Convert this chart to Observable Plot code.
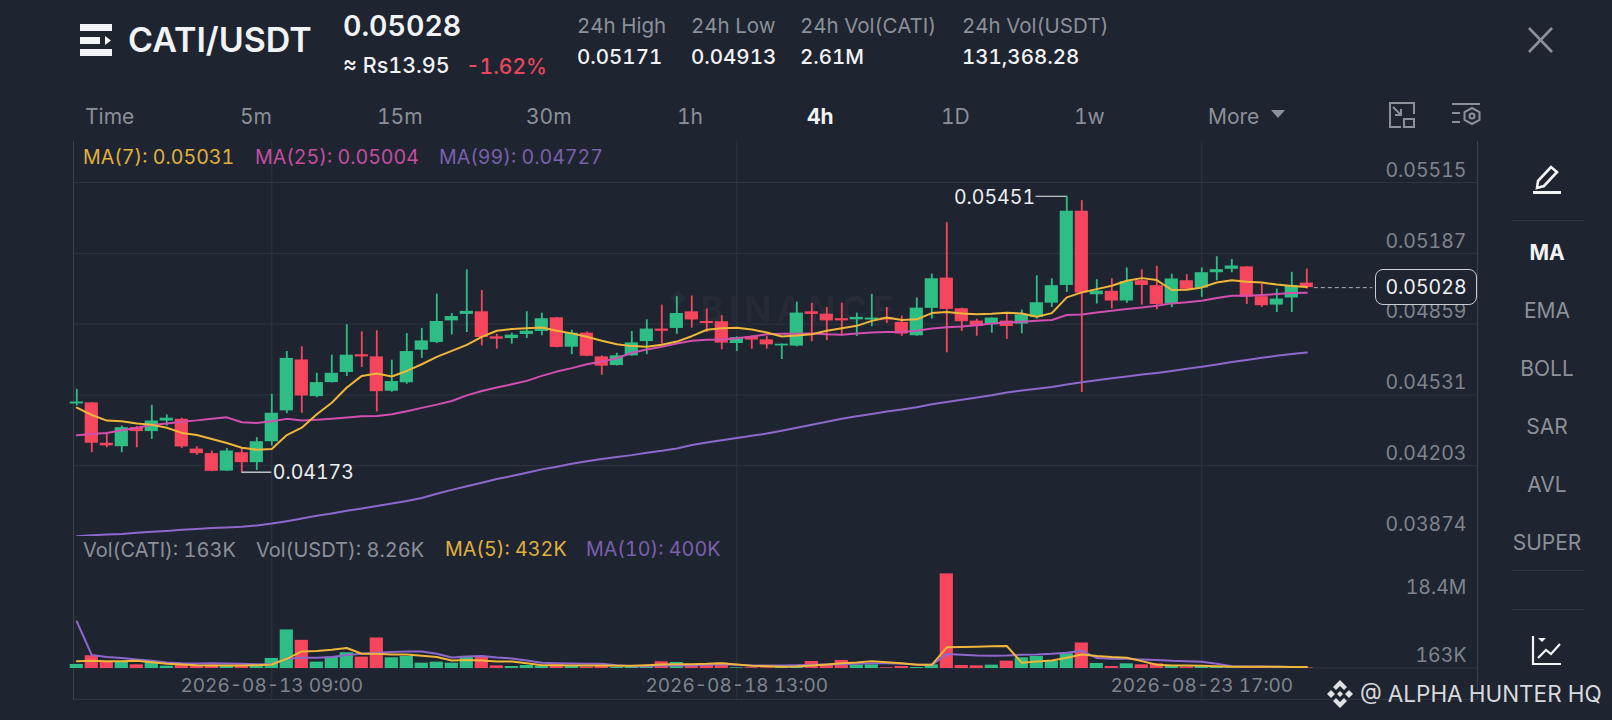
<!DOCTYPE html>
<html><head><meta charset="utf-8">
<style>
html,body{margin:0;padding:0;background:#1e2430;}
#page{position:relative;width:1612px;height:720px;overflow:hidden;background:#1e2430;font-family:Inter,"Noto Sans",sans-serif;font-variant-numeric:tabular-nums;font-feature-settings:"tnum";}
#page svg{position:absolute;left:0;}
#page svg text{font-variant-numeric:tabular-nums;font-feature-settings:"tnum";}
.t{position:absolute;white-space:nowrap;transform:translateY(-50%);line-height:1;}
.hr{position:absolute;height:1px;background:#2f3641;}
</style>
<script src="https://cdn.jsdelivr.net/npm/d3@7"></script>
<script src="https://cdn.jsdelivr.net/npm/@observablehq/plot@0.6"></script>
</head><body><div id="page"></div>
<script>
const open=[.04489,.04494,.04307,.04291,.04379,.04361,.04410,.04418,.04280,.04259,.04178,.04263,.04217,.04314,.04457,.04693,.04523,.04588,.04635,.04717,.04707,.04548,.04587,.04738,.04774,.04874,.04904,.04916,.04800,.04792,.04811,.04825,.04888,.04752,.04817,.04707,.04667,.04712,.04778,.04836,.04839,.04916,.04871,.04870,.04769,.04799,.04786,.04758,.04757,.04916,.04905,.04884,.04879,.04878,.04887,.04867,.04805,.04932,.05072,.04930,.04873,.04856,.04873,.04859,.04890,.04956,.05038,.05382,.04995,.05011,.04966,.05060,.05037,.04952,.05060,.05026,.05097,.05113,.05124,.04986,.04947,.04980,.05049];
const close=[.04498,.04307,.04295,.04379,.04361,.04410,.04423,.04290,.04259,.04177,.04271,.04217,.04314,.04446,.04700,.04526,.04588,.04631,.04715,.04707,.04546,.04593,.04732,.04781,.04871,.04894,.04918,.04797,.04789,.04808,.04826,.04884,.04751,.04817,.04710,.04664,.04712,.04772,.04836,.04826,.04908,.04878,.04862,.04771,.04796,.04785,.04763,.04766,.04910,.04904,.04874,.04874,.04890,.04887,.04878,.04813,.04933,.05069,.04927,.04870,.04848,.04887,.04848,.04902,.04958,.05037,.05382,.05003,.05012,.04966,.05056,.05038,.04950,.05068,.05020,.05097,.05111,.05128,.04984,.04944,.04975,.05037,.05028];
const high=[.04557,.04496,.04353,.04387,.04384,.04483,.04438,.04423,.04291,.04271,.04283,.04283,.04333,.04534,.04732,.04754,.04631,.04715,.04856,.04823,.04828,.04692,.04815,.04839,.04998,.04908,.05110,.05014,.04812,.04817,.04916,.04910,.04890,.04831,.04823,.04712,.04724,.04825,.04879,.04947,.04986,.04989,.04929,.04898,.04800,.04805,.04802,.04767,.04961,.04955,.04936,.04956,.04910,.04997,.04936,.04896,.04980,.05091,.05329,.04933,.04882,.04888,.04908,.04924,.05083,.05069,.05451,.05431,.05065,.05069,.05119,.05110,.05127,.05090,.05088,.05119,.05171,.05158,.05125,.05044,.05021,.05099,.05114];
const low=[.04480,.04263,.04286,.04263,.04286,.04325,.04387,.04282,.04251,.04175,.04176,.04173,.04181,.04294,.04444,.04446,.04518,.04586,.04616,.04658,.04452,.04543,.04580,.04700,.04769,.04809,.04820,.04758,.04743,.04766,.04792,.04805,.04749,.04717,.04708,.04622,.04665,.04710,.04717,.04766,.04812,.04840,.04820,.04740,.04732,.04743,.04743,.04695,.04754,.04777,.04782,.04805,.04802,.04847,.04862,.04802,.04803,.04882,.04726,.04825,.04803,.04817,.04788,.04814,.04882,.04936,.05006,.04542,.04952,.04930,.04955,.04947,.04925,.04935,.05017,.04983,.05060,.05097,.04950,.04936,.04913,.04913,.05021];
const ma7=[.04472,.04438,.04412,.04409,.04399,.04393,.04379,.04355,.04345,.04327,.04308,.04286,.04277,.04280,.04345,.04379,.04441,.04495,.04565,.04619,.04630,.04616,.04642,.04673,.04707,.04735,.04763,.04800,.04828,.04836,.04840,.04843,.04828,.04816,.04800,.04782,.04766,.04757,.04754,.04763,.04778,.04803,.04833,.04840,.04842,.04834,.04820,.04802,.04806,.04812,.04828,.04840,.04851,.04874,.04890,.04878,.04881,.04910,.04915,.04908,.04905,.04907,.04912,.04908,.04893,.04910,.04983,.05006,.05021,.05037,.05060,.05072,.05063,.05017,.05018,.05029,.05052,.05062,.05055,.05052,.05042,.05036,.05031];
const ma25=[.04344,.04350,.04355,.04367,.04379,.04392,.04399,.04407,.04413,.04421,.04427,.04404,.04401,.04409,.04420,.04412,.04416,.04421,.04426,.04432,.04433,.04441,.04455,.04471,.04486,.04503,.04529,.04549,.04565,.04580,.04596,.04619,.04639,.04655,.04673,.04686,.04701,.04726,.04741,.04754,.04769,.04782,.04786,.04788,.04794,.04802,.04812,.04814,.04814,.04816,.04812,.04810,.04816,.04820,.04823,.04823,.04828,.04839,.04844,.04848,.04854,.04862,.04867,.04870,.04874,.04878,.04901,.04904,.04913,.04921,.04929,.04936,.04944,.04955,.04960,.04967,.04980,.04990,.04990,.04994,.04998,.05003,.05004];
const ma99=[.03876,.03881,.03884,.03887,.03892,.03897,.03901,.03906,.03910,.03914,.03917,.03920,.03926,.03935,.03946,.03958,.03971,.03982,.03994,.04005,.04016,.04028,.04039,.04053,.04073,.04091,.04108,.04124,.04141,.04155,.04170,.04186,.04198,.04212,.04224,.04234,.04243,.04252,.04263,.04272,.04283,.04299,.04310,.04321,.04331,.04342,.04352,.04365,.04379,.04393,.04407,.04421,.04432,.04443,.04454,.04463,.04474,.04488,.04498,.04509,.04519,.04529,.04542,.04551,.04559,.04568,.04579,.04590,.04599,.04608,.04616,.04625,.04633,.04642,.04652,.04661,.04672,.04683,.04693,.04703,.04712,.04720,.04727];
const volume=[1080,3420,1620,1710,990,1710,630,900,630,900,810,900,990,2700,10350,7560,1710,3060,4230,3060,8190,2880,3240,1440,1710,1440,3240,3060,720,540,810,630,990,630,360,810,270,270,270,1800,1620,900,900,1440,180,180,180,360,270,1890,1080,2160,900,990,180,540,270,990,25380,810,720,900,1980,2880,3240,1980,3960,6840,1350,540,1260,990,1260,720,360,630,270,180,450,270,360,270,163];
const volMa5=[1980,2070,1980,1980,2070,1710,1260,1080,900,810,810,810,900,1080,2610,4590,4680,5040,5490,3960,3960,3780,3780,3420,3060,2160,2250,2160,1890,1890,1440,900,900,810,810,810,720,720,900,1080,1170,1170,1260,1440,1080,720,630,450,540,810,1080,1440,1620,1980,1710,1440,990,990,5670,5760,5850,5940,6030,1530,1890,2160,2880,3780,3330,3060,2880,1980,990,810,810,720,630,450,450,450,450,432,432];
const volMa10=[12600,3600,3060,2790,2430,2070,1620,1440,1350,1440,1350,1260,1170,1170,2610,2880,2880,3060,3600,3960,4230,4410,4590,4590,3960,2970,3240,3330,2970,2700,2160,1530,1440,1350,1260,1260,900,630,630,810,810,810,990,1170,990,810,810,810,900,990,1080,1170,1260,1440,1440,1260,1080,990,3870,3690,3510,3420,3510,3690,3780,3960,4230,4770,2790,2610,2610,2430,2250,2070,1980,1800,1260,630,540,540,450,420,400];
const priceTicks=[0.05515,0.05187,0.04859,0.04531,0.04203,0.03874];
const volTicks=[18400,163];
const volTickLabels=["18.4M","163K"];
const dateTicks=["2026-08-13T09:00Z","2026-08-18T13:00Z","2026-08-23T17:00Z"];
const highMark={index:66,value:0.05451};
const lowMark={index:11,value:0.04173};
const lastPrice=0.05028;

const GREEN="#2ebd85",RED="#f6465d",YEL="#f0b63a",PINK="#d24fb0",PURP="#8f68cc";
const GRID="#2e3540",EDGE="#3a414c",AXIS="#7f858e";
const FONT="Inter,'Noto Sans',sans-serif";
const H4=4*3600e3,T0=Date.parse(dateTicks[0])-13*H4;
const t=i=>new Date(T0+i*H4);
const xScale={type:"utc",domain:[t(-0.22),t(93.38)],axis:null};
const rows=open.map((o,i)=>({i,o,c:close[i],h:high[i],l:low[i],v:volume[i],up:close[i]>=open[i]}));
const line=(a,stroke)=>Plot.line(a,{x:(d,i)=>t(i),y:d=>d,stroke,strokeWidth:2,curve:"linear"});
const dates=dateTicks.map(d=>new Date(d));
const edges=xScale.domain;

const price=Plot.plot({
  width:1612,height:536,marginTop:141,marginBottom:0,marginLeft:73,marginRight:135,
  x:xScale,y:{domain:[0.03875,0.05705],axis:null},
  style:{background:"transparent",fontFamily:FONT,top:"0px"},
  marks:[
    Plot.ruleY(priceTicks,{stroke:GRID}),
    Plot.ruleX(dates,{stroke:GRID}),
    Plot.ruleX(edges,{stroke:EDGE}),
    Plot.text(priceTicks,{y:d=>d,text:d=>d.toFixed(5),frameAnchor:"right",dx:-11,dy:-12,fill:AXIS,fontSize:19.5}),
    Plot.ruleX(rows,{x:d=>t(d.i),y1:"l",y2:"h",stroke:d=>d.up?GREEN:RED,strokeWidth:1.8}),
    Plot.rect(rows,{x1:d=>t(d.i-0.44),x2:d=>t(d.i+0.44),y1:"o",y2:"c",fill:d=>d.up?GREEN:RED}),
    line(ma99,PURP),line(ma25,PINK),line(ma7,YEL),
    Plot.ruleY([lastPrice],{x1:t(82.5),x2:t(86.4),stroke:"#aab0b8",strokeWidth:1,strokeDasharray:"4,3"}),
    Plot.ruleY([highMark.value],{x1:t(highMark.index-2.05),x2:t(highMark.index),stroke:"#c9ccd1",strokeWidth:1.2}),
    Plot.ruleY([lowMark.value],{x1:t(lowMark.index),x2:t(lowMark.index+2),stroke:"#e9ebee",strokeWidth:1.2}),
    Plot.text([highMark],{x:d=>t(d.index-2.05),y:"value",text:d=>d.value.toFixed(5),textAnchor:"end",dx:-1,dy:1,fill:"#eef0f2",fontSize:19.5}),
    Plot.text([lowMark],{x:d=>t(d.index+2),y:"value",text:d=>d.value.toFixed(5),textAnchor:"start",dx:1,dy:1,fill:"#eef0f2",fontSize:19.5})
  ]
});
const vol=Plot.plot({
  width:1612,height:184,marginTop:0,marginBottom:21,marginLeft:73,marginRight:135,
  x:xScale,y:{domain:[-8310,35400],axis:null},
  style:{background:"transparent",fontFamily:FONT,top:"536px"},
  marks:[
    Plot.ruleX(dates,{stroke:GRID}),
    Plot.ruleX(edges,{stroke:EDGE}),
    Plot.ruleY([-8310,163],{stroke:GRID}),
    Plot.rect(rows,{x1:d=>t(d.i-0.44),x2:d=>t(d.i+0.44),y1:0,y2:"v",fill:d=>d.up?GREEN:RED}),
    line(volMa10,PURP),line(volMa5,YEL),
    Plot.text(volTicks,{y:d=>d,text:(d,i)=>volTickLabels[i],frameAnchor:"right",dx:-11,dy:-12,fill:AXIS,fontSize:19.5}),
    Plot.text(dates,{x:d=>d,text:d=>d3.utcFormat("%Y-%m-%d %H:%M")(d),frameAnchor:"bottom",dy:-14,lineAnchor:"middle",fill:AXIS,fontSize:19})
  ]
});

const page=document.getElementById("page");
function T(text,x,y,size,color,weight=400,center=false){
  const e=document.createElement("div");e.className="t";e.textContent=text;
  e.style.cssText=`left:${x}px;top:${y}px;font-size:${size}px;color:${color};font-weight:${weight};`+(center?"transform:translate(-50%,-50%);":"");
  page.appendChild(e);return e;
}
const wm=T("BINANCE",700,309,36,"rgba(255,255,255,0.035)",700);wm.style.letterSpacing="5px";
page.appendChild(price);page.appendChild(vol);

const W="#f2f3f5",G="#8b9099";
T("CATI/USDT",128,40,34,W,600);
T("0.05028",343,26,28.5,W,600);
T("≈ Rs13.95",343,66,21.5,W,500);
T("-1.62%",466,66,21,"#e8475c",500);
[["24h High","0.05171",577],["24h Low","0.04913",691],["24h Vol(CATI)","2.61M",800],["24h Vol(USDT)","131,368.28",962]].forEach(([a,b,x])=>{
  T(a,x,25.5,20.5,G);T(b,x,56.5,20.5,W,500);
});
[["Time",85],["5m",240],["15m",377],["30m",526],["1h",677],["1D",941],["1w",1074],["More",1208]].forEach(([s,x])=>T(s,x,115.5,21,G));
T("4h",807,115.5,21,W,700);
T("MA(7): 0.05031",83,157.5,19.6,"#e0b13e");
T("MA(25): 0.05004",255,157.5,19.6,"#c44f9f");
T("MA(99): 0.04727",439,157.5,19.6,"#7b60ad");
T("Vol(CATI): 163K",83,550,20,G);
T("Vol(USDT): 8.26K",256,550,20,G);
T("MA(5): 432K",445,550,19.7,"#e0b13e");
T("MA(10): 400K",586,550,19.7,"#7b60ad");
T("MA",1547,251.5,21,W,700,true);
[["EMA",309.5],["BOLL",368],["SAR",425.5],["AVL",484],["SUPER",542]].forEach(([s,y])=>T(s,1547,y,21,"#8b9099",400,true));
[220,570,609].forEach(y=>{const h=document.createElement("div");h.className="hr";h.style.cssText=`left:1512px;width:72px;top:${y}px;`;page.appendChild(h);});
const box=T("0.05028",1375,286.5,19.5,W);
box.style.cssText+="width:100px;height:34px;line-height:34px;text-align:center;background:#1e2430;border:1px solid #c9ccd1;border-radius:8px;";
T("@ ALPHA HUNTER HQ",1360,694,22.5,"#d8dadd");

const icons=document.createElement("div");
icons.innerHTML=`<svg width="1612" height="720" style="top:0;pointer-events:none" fill="none">
<g fill="#f2f3f5"><rect x="80" y="24" width="32" height="7"/><rect x="80" y="37" width="20" height="7"/><path d="M105 36l6 4.500-6 4.500z"/><rect x="80" y="49" width="32" height="7"/></g>
<g stroke="#8b9099" stroke-width="2.600"><path d="M1529 28l23 24M1552 28l-23 24"/></g>
<path d="M1271 110h14l-7 8z" fill="#8b9099"/>
<g stroke="#8b9099" stroke-width="2"><path d="M1401 127h-11v-24h24v11"/><rect x="1404" y="119" width="10" height="8"/><path d="M1393 107l8 8M1401 109v6h-6"/></g>
<g stroke="#8b9099" stroke-width="2"><path d="M1452 104h28M1452 113h8M1452 122h8"/><path d="M1472 108l7.500 4v8l-7.500 4-7.500-4v-8z"/><circle cx="1472" cy="116" r="2.500"/></g>
<g stroke="#f2f3f5" stroke-width="2.600"><path d="M1538 181l13-14 6 5-13 14-7 2z"/></g><rect x="1533" y="191" width="28" height="3" fill="#f2f3f5"/>
<g stroke="#f2f3f5" stroke-width="2.200"><path d="M1533 636v28h28M1538 658l8-8 5 4 9-10"/></g><path d="M1538 638h8l-4 4z" fill="#f2f3f5"/>
<path d="M678 290l8 8-8 8-8-8z" fill="rgba(255,255,255,0.035)"/>
<g fill="#dfe1e4"><path d="M1340 680l7 7-3 3-4-4-4 4-3-3zM1340 708l7-7-3-3-4 4-4-4-3 3z"/><path d="M1331 690l4 4-4 4-4-4zM1349 690l4 4-4 4-4-4z"/><path d="M1340 691l3 3-3 3-3-3z"/></g>
</svg>`;
page.appendChild(icons);
</script></body></html>
